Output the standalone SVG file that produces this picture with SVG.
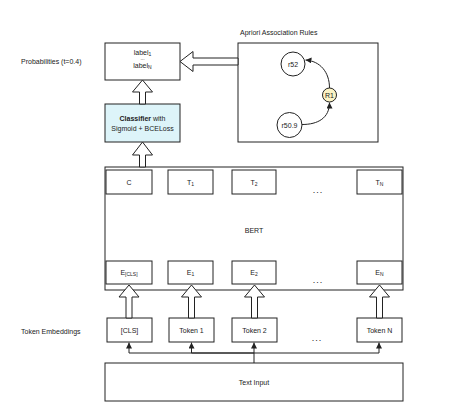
<svg xmlns="http://www.w3.org/2000/svg" width="474" height="419" viewBox="0 0 474 419">
<defs>
<style>
.box{fill:#fff;stroke:#222;stroke-width:1}
.cls{fill:#ddf4f9;stroke:#222;stroke-width:1}
.fat{fill:#fff;stroke:#222;stroke-width:1;stroke-linejoin:miter}
.ln{fill:none;stroke:#222;stroke-width:1}
text{font-family:"Liberation Sans",Arial,sans-serif;font-size:7px;fill:#222;text-anchor:middle;dominant-baseline:central}
.lft{text-anchor:start}
.sub{font-size:5px}
.dots{font-size:9px;letter-spacing:1px}
</style>
<marker id="ah" viewBox="0 0 10 10" refX="10" refY="5" markerWidth="6" markerHeight="6" orient="auto" markerUnits="userSpaceOnUse">
<path d="M0,0 L10,5 L0,10 z" fill="#222"/>
</marker>
</defs>

<text class="lft" x="21" y="61.5">Probabilities (t=0.4)</text>
<text class="lft" x="240" y="32">Apriori Association Rules</text>
<text class="lft" x="21" y="331">Token Embeddings</text>

<g id="labels">
<rect class="box" x="105" y="43" width="75" height="37"/>
<text x="142.5" y="52.5">label<tspan class="sub" dy="1.5">1</tspan></text>
<text x="142.5" y="58" style="font-size:5px">...</text>
<text x="142.5" y="65">label<tspan class="sub" dy="1.5">N</tspan></text>
</g>

<g id="classifier">
<rect class="cls" x="105" y="104" width="75" height="38"/>
<text x="142.5" y="118"><tspan font-weight="bold">Classifier</tspan> with</text>
<text x="142.5" y="128">Sigmoid + BCELoss</text>
</g>

<g id="apriori">
<rect class="box" x="238" y="43" width="140" height="99"/>
</g>
<g id="r52"><circle class="box" cx="293" cy="64" r="12"/><text x="293" y="64">r52</text></g>
<g id="r509"><circle class="box" cx="289.5" cy="125" r="12.5"/><text x="289.5" y="125">r50.9</text></g>
<g id="R1"><circle cx="329.5" cy="95" r="7" fill="#fbf3c4" stroke="#222" stroke-width="1"/><text x="329.5" y="95">R1</text></g>

<g id="bert">
<rect class="box" x="105" y="167" width="298" height="123"/>
<text x="254" y="230">BERT</text>
</g>
<g id="C"><rect class="box" x="106" y="170" width="46" height="24"/><text x="129" y="182">C</text></g>
<g id="T1"><rect class="box" x="168" y="170" width="45" height="24"/><text x="190.5" y="182">T<tspan class="sub" dy="1.5">1</tspan></text></g>
<g id="T2"><rect class="box" x="232" y="170" width="44" height="24"/><text x="254" y="182">T<tspan class="sub" dy="1.5">2</tspan></text></g>
<g id="TN"><rect class="box" x="357" y="170" width="45" height="24"/><text x="379.5" y="182">T<tspan class="sub" dy="1.5">N</tspan></text></g>
<text class="dots" x="318" y="190">...</text>

<g id="ECLS"><rect class="box" x="106" y="261" width="46" height="23"/><text x="129" y="272.5">E<tspan class="sub" dy="1.5">[CLS]</tspan></text></g>
<g id="E1"><rect class="box" x="168" y="261" width="45" height="23"/><text x="190.5" y="272.5">E<tspan class="sub" dy="1.5">1</tspan></text></g>
<g id="E2"><rect class="box" x="232" y="261" width="44" height="23"/><text x="254" y="272.5">E<tspan class="sub" dy="1.5">2</tspan></text></g>
<g id="EN"><rect class="box" x="357" y="261" width="45" height="23"/><text x="379.5" y="272.5">E<tspan class="sub" dy="1.5">N</tspan></text></g>
<text class="dots" x="318" y="280">...</text>

<g id="tokCLS"><rect class="box" x="107" y="318" width="45" height="24"/><text x="129.5" y="330">[CLS]</text></g>
<g id="tok1"><rect class="box" x="169" y="318" width="45" height="24"/><text x="191.5" y="330">Token 1</text></g>
<g id="tok2"><rect class="box" x="232" y="318" width="45" height="24"/><text x="254.5" y="330">Token 2</text></g>
<g id="tokN"><rect class="box" x="357" y="318" width="45" height="24"/><text x="379.5" y="330">Token N</text></g>
<text class="dots" x="317" y="338">...</text>

<g id="textinput">
<rect class="box" x="105" y="363" width="298" height="38"/>
<text x="254" y="382">Text Input</text>
</g>

<g id="connectors">
<polygon class="fat" points="180,61.5 193,51.5 193,58 238,58 238,65 193,65 193,71.5"/>
<polygon class="fat" points="142.5,80 152.5,92 145.5,92 145.5,104 139.5,104 139.5,92 132.5,92"/>
<polygon class="fat" points="142.5,142 152.5,155 145.5,155 145.5,167 139.5,167 139.5,155 132.5,155"/>
<polygon class="fat" points="129,285 139,297 132,297 132,318 126,318 126,297 119,297"/>
<polygon class="fat" points="191.5,285 201.5,297 194.5,297 194.5,318 188.5,318 188.5,297 181.5,297"/>
<polygon class="fat" points="254.5,285 264.5,297 257.5,297 257.5,318 251.5,318 251.5,297 244.5,297"/>
<polygon class="fat" points="379.5,285 389.5,297 382.5,297 382.5,318 376.5,318 376.5,297 369.5,297"/>
<path class="ln" d="M254,363 V342.5" marker-end="url(#ah)"/>
<path class="ln" d="M254,353 H129 V342.5" marker-end="url(#ah)"/>
<path class="ln" d="M254,353 H191.5 V342.5" marker-end="url(#ah)"/>
<path class="ln" d="M254,353 H379 V342.5" marker-end="url(#ah)"/>
<path class="ln" d="M329.5,88 C329.5,72 320,61 305.5,60" marker-end="url(#ah)"/>
<path class="ln" d="M302,124.5 C318,124.5 329.5,118 329.5,102.5" marker-end="url(#ah)"/>
</g>
</svg>
